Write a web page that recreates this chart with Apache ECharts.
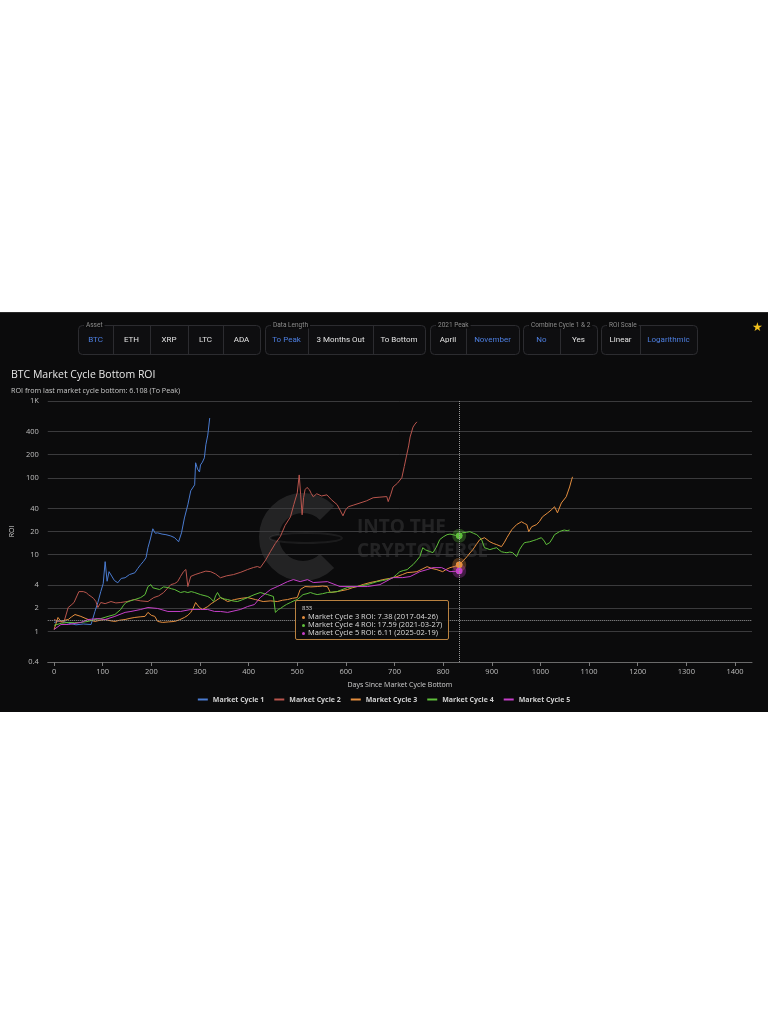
<!DOCTYPE html>
<html>
<head>
<meta charset="utf-8">
<title>BTC Market Cycle Bottom ROI</title>
<script src="https://cdn.jsdelivr.net/npm/echarts@6/dist/echarts.min.js"></script>
<style>
html, body { margin: 0; padding: 0; background: #fff; width: 768px; height: 1024px; }
#chart { position: absolute; left: 0; top: 312px; width: 768px; height: 400px; }
</style>
</head>
<body>
<div id="chart"></div>
<script>
// [day since bottom, ROI]
const cycle1 = [[0,1.31],[15,1.38],[30,1.28],[45,1.22],[60,1.25],[76,1.23],[84,1.82],[90,2.38],[96,3.3],[101,4.2],[105,8.1],[109,4.5],[113,6.0],[117,5.8],[124,4.6],[131,4.3],[138,4.9],[146,5.0],[155,5.5],[166,5.8],[172,6.6],[178,7.4],[184,8.2],[189,9.1],[193,12.3],[198,16],[203,21.7],[208,19],[213,19.2],[222,18.5],[230,18.2],[240,17.5],[248,16.6],[256,14.7],[262,19.2],[268,30],[275,44.6],[281,67.8],[285,70],[289,81],[291,157],[295,130],[299,119],[301,147],[305,160],[309,182],[312,269],[316,360],[320,600]];
const cycle2 = [[0,1.43],[10,1.35],[20,1.31],[29,2.05],[35,2.2],[41,2.38],[47,2.9],[51,3.3],[55,3.5],[60,3.3],[66,3.2],[71,3.0],[76,2.85],[81,2.7],[86,2.45],[90,2.05],[96,2.38],[105,2.3],[117,2.45],[127,2.35],[137,2.38],[150,2.45],[164,2.6],[178,2.5],[193,2.45],[205,2.76],[215,2.9],[225,3.2],[240,4.07],[248,4.2],[254,4.45],[260,5.2],[266,6.0],[271,6.4],[275,3.84],[281,5.2],[290,5.5],[301,5.8],[312,6.1],[322,6.0],[332,5.6],[342,5.0],[355,5.3],[369,5.5],[384,5.9],[398,6.4],[410,6.8],[418,7.0],[424,6.77],[435,8.5],[445,11],[455,14],[465,17.1],[475,24],[486,31],[493,45],[500,63.6],[504,109],[507,60],[510,33],[513,55],[516,70],[520,75],[525,70],[529,62],[533,56.6],[540,62],[550,58],[561,60],[570,52],[582,44.7],[588,38],[594,32],[599,38],[605,42],[615,44],[629,47],[642,50],[656,55],[670,56],[684,57],[687,49],[692,60],[697,76],[706,85],[715,100],[720,140],[725,198],[729,260],[732,340],[738,457],[742,500],[746,535]];
const cycle3 = [[0,1.06],[8,1.52],[14,1.35],[22,1.4],[29,1.43],[36,1.55],[43,1.66],[55,1.57],[70,1.43],[84,1.35],[95,1.4],[105,1.43],[115,1.38],[125,1.35],[135,1.4],[146,1.43],[156,1.48],[166,1.52],[177,1.55],[187,1.57],[193,1.77],[200,1.62],[207,1.57],[213,1.35],[223,1.31],[235,1.33],[248,1.35],[258,1.42],[268,1.52],[275,1.62],[281,1.77],[286,2.0],[291,2.38],[295,2.2],[299,2.05],[305,1.93],[316,2.11],[323,2.3],[330,2.45],[342,2.76],[350,2.6],[357,2.45],[371,2.6],[385,2.7],[398,2.76],[414,2.6],[430,2.45],[445,2.5],[459,2.45],[470,2.55],[480,2.6],[490,2.7],[500,2.76],[506,3.51],[516,3.84],[528,3.8],[541,3.84],[552,3.9],[562,3.84],[568,3.21],[582,3.3],[592,3.4],[603,3.51],[613,3.7],[623,3.84],[636,4.1],[650,4.33],[663,4.5],[676,4.73],[690,4.9],[705,5.18],[716,5.5],[726,5.83],[736,5.9],[746,6.0],[757,6.5],[767,6.97],[777,6.6],[787,6.38],[799,6.0],[806,6.4],[814,6.77],[823,7.0],[833,7.38],[841,8.3],[849,9.4],[855,10.5],[861,11.6],[868,13.5],[875,15.6],[885,16.6],[896,14.7],[903,14.0],[910,13.5],[920,12.7],[926,14.5],[931,16.6],[941,21.1],[951,24.6],[961,26.8],[967,25.5],[972,24.6],[976,19.9],[982,23.1],[992,24.6],[998,27],[1004,31],[1015,35],[1022,38],[1029,42],[1035,35],[1043,47],[1053,56.6],[1060,76],[1064,94],[1066,103],[1070,109]];
const cycle4 = [[0,1.2],[15,1.28],[29,1.31],[42,1.3],[55,1.31],[70,1.35],[84,1.43],[96,1.47],[111,1.57],[125,1.66],[137,1.93],[143,2.2],[148,2.38],[157,2.5],[166,2.6],[178,2.76],[187,3.02],[193,3.84],[199,4.07],[203,3.7],[207,3.73],[217,3.51],[225,3.8],[234,3.73],[241,3.6],[248,3.51],[260,3.21],[268,3.3],[275,3.21],[282,3.3],[289,3.21],[301,3.02],[316,2.85],[322,2.7],[328,2.45],[332,2.9],[336,3.21],[342,2.76],[350,2.65],[357,2.6],[367,2.5],[377,2.45],[388,2.6],[398,2.76],[411,3.0],[424,3.21],[439,3.02],[451,2.85],[455,1.77],[461,1.93],[466,2.0],[471,2.11],[478,2.25],[486,2.38],[493,2.5],[500,2.6],[506,2.8],[512,3.02],[520,3.1],[527,3.21],[534,3.1],[541,3.02],[552,3.1],[562,3.21],[572,3.25],[582,3.3],[592,3.5],[603,3.73],[613,3.8],[623,3.84],[634,3.95],[644,4.07],[654,4.25],[664,4.45],[675,4.6],[685,4.73],[697,5.02],[704,5.5],[711,6.0],[718,6.2],[726,6.38],[732,6.9],[738,7.4],[745,8.3],[752,9.4],[758,12.3],[764,11.5],[772,11.0],[779,10.6],[786,12.5],[793,15.7],[800,17],[808,18.2],[814,18.5],[820,18.2],[825,17.8],[830,17.1],[833,17.59],[840,19.3],[848,19.5],[855,19.9],[862,19.0],[869,18.2],[874,17],[879,15.7],[885,12.3],[890,12],[896,11.6],[903,12],[910,12.3],[915,11.5],[920,10.9],[926,10.7],[931,10.6],[937,10.8],[943,10.6],[947,10.0],[951,9.4],[957,11.6],[962,13],[967,14.3],[972,14.5],[978,14.7],[985,15.2],[992,15.7],[997,16.2],[1002,16.6],[1008,15],[1012,13.5],[1016,13.8],[1019,14.3],[1024,16],[1029,18.2],[1034,19],[1039,19.9],[1044,20.5],[1049,20.9],[1055,20.5],[1060,20.9]];
const cycle5 = [[0,1.06],[14,1.23],[29,1.23],[55,1.31],[70,1.43],[90,1.47],[105,1.43],[125,1.57],[146,1.77],[158,1.82],[178,1.93],[193,2.05],[213,1.99],[234,1.82],[260,1.82],[281,1.93],[301,1.93],[316,1.93],[330,1.82],[342,1.82],[357,1.77],[383,1.93],[398,2.11],[412,2.24],[424,2.76],[445,3.51],[459,3.84],[480,4.45],[492,4.73],[506,4.45],[521,4.73],[533,4.33],[562,4.45],[588,3.84],[615,3.84],[644,3.84],[670,4.07],[697,5.02],[717,5.02],[732,5.18],[752,6.0],[767,6.38],[779,6.77],[797,6.77],[814,6.0],[833,6.11]];

const cycleNames = ['Market Cycle 1', 'Market Cycle 2', 'Market Cycle 3', 'Market Cycle 4', 'Market Cycle 5'];
const cycleColors = ['#4a7bd0', '#b9554d', '#e58e3e', '#5fbf3b', '#c53fc8'];
const cycleBottoms = ['2010-07-17', '2011-11-18', '2015-01-14', '2018-12-15', '2022-11-09'];
const dayTicks = [0, 100, 200, 300, 400, 500, 600, 700, 800, 900, 1000, 1100, 1200, 1300, 1400];
const roiTicks = [0.4, 1, 2, 4, 10, 20, 40, 100, 200, 400, 1000];
const hoverDay = 833;
const hoverRoi = 1.39;

const controlGroups = [
    { title: 'Asset', left: 78, buttons: ['BTC', 'ETH', 'XRP', 'LTC', 'ADA'], widths: [35, 37, 38, 35, 37], active: 0 },
    { title: 'Data Length', left: 265, buttons: ['To Peak', '3 Months Out', 'To Bottom'], widths: [43, 65, 52], active: 0 },
    { title: '2021 Peak', left: 430, buttons: ['April', 'November'], widths: [36, 53], active: 1 },
    { title: 'Combine Cycle 1 & 2', left: 523, buttons: ['No', 'Yes'], widths: [37, 37], active: 0 },
    { title: 'ROI Scale', left: 601, buttons: ['Linear', 'Logarithmic'], widths: [39, 57], active: 1 }
];

const cycles = [cycle1, cycle2, cycle3, cycle4, cycle5];
const bg = '#0b0b0c';

function dateAfter (start, days) {
    const d = new Date(start + 'T00:00:00Z');
    d.setUTCDate(d.getUTCDate() + days);
    return d.toISOString().slice(0, 10);
}

// button bar above the chart
function buildControls () {
    const els = [];
    controlGroups.forEach(function (g) {
        const total = g.widths.reduce((a, b) => a + b, 0);
        els.push({ type: 'rect', shape: { x: g.left + 0.5, y: 13.5, width: total, height: 29, r: 4 },
            style: { fill: '#0e0e10', stroke: '#2c2c30', lineWidth: 1 } });
        let x = g.left;
        g.buttons.forEach(function (b, i) {
            if (i > 0) {
                els.push({ type: 'line', shape: { x1: x + 0.5, y1: 14, x2: x + 0.5, y2: 42 },
                    style: { stroke: '#2c2c30', lineWidth: 1 } });
            }
            els.push({ type: 'text', x: x + g.widths[i] / 2, y: 28,
                style: { text: b, fill: i === g.active ? '#4d7fe0' : '#e2e2e2', fontSize: 8,
                    fontFamily: 'Roboto', align: 'center', verticalAlign: 'middle' } });
            x += g.widths[i];
        });
        els.push({ type: 'text', x: g.left + 6, y: 13,
            style: { text: g.title, fill: '#8c8c8c', fontSize: 6.5, fontFamily: 'Roboto',
                align: 'left', verticalAlign: 'middle', backgroundColor: bg, padding: [0, 2] } });
    });
    els.push({ type: 'text', x: 757, y: 16,
        style: { text: '★', fill: '#f4c21c', fontSize: 12, align: 'center', verticalAlign: 'middle' } });
    els.push({ type: 'line', shape: { x1: 0, y1: 0.5, x2: 768, y2: 0.5 }, style: { stroke: '#2a2a2a', lineWidth: 1 } });
    return els;
}

// faint logo watermark behind the lines
function buildWatermark () {
    const c = 'rgba(255,255,255,0.1)';
    return [
        { type: 'arc', z: 0, silent: true, shape: { cx: 303, cy: 225, r: 34, startAngle: Math.PI / 4, endAngle: Math.PI * 7 / 4, clockwise: true },
            style: { stroke: c, lineWidth: 20, fill: null } },
        { type: 'ellipse', z: 0, silent: true, shape: { cx: 306, cy: 226, rx: 36, ry: 5 },
            style: { fill: bg, stroke: 'rgba(255,255,255,0.07)', lineWidth: 2 } },
        { type: 'text', z: 0, silent: true, x: 357, y: 216,
            style: { text: 'INTO THE', fill: c, fontSize: 19, fontWeight: 'bold', fontFamily: 'Open Sans', verticalAlign: 'middle' } },
        { type: 'text', z: 0, silent: true, x: 357, y: 240,
            style: { text: 'CRYPTOVERSE', fill: c, fontSize: 19, fontWeight: 'bold', fontFamily: 'Open Sans', verticalAlign: 'middle' } }
    ];
}

const chart = echarts.init(document.getElementById('chart'));

chart.setOption({
    backgroundColor: bg,
    animation: false,
    textStyle: { fontFamily: 'Open Sans' },
    title: [
        { text: 'BTC Market Cycle Bottom ROI', left: 6, top: 53,
            textStyle: { color: '#e6e6e6', fontSize: 10.5, fontWeight: 'normal' } },
        { text: 'ROI from last market cycle bottom: 6.108 (To Peak)', left: 6, top: 70,
            textStyle: { color: '#c8c8c8', fontSize: 7.2, fontWeight: 'normal' } }
    ],
    graphic: { elements: buildControls().concat(buildWatermark()) },
    legend: {
        data: cycleNames,
        top: 379,
        left: 'center',
        icon: 'rect',
        itemWidth: 10,
        itemHeight: 2,
        itemGap: 10,
        textStyle: { color: '#cfcfcf', fontSize: 7, fontWeight: 'bold' }
    },
    grid: { left: 47, right: 16, top: 89, bottom: 50 },
    tooltip: {
        trigger: 'axis',
        triggerOn: 'none',
        alwaysShowContent: true,
        transitionDuration: 0,
        backgroundColor: 'rgba(12,12,12,0.92)',
        borderColor: '#b98240',
        borderWidth: 1,
        padding: [3, 6],
        textStyle: { color: '#dedede', fontSize: 7.5, fontFamily: 'Open Sans' },
        extraCssText: 'border-radius:2px;box-shadow:none;',
        axisPointer: {
            type: 'cross',
            triggerEmphasis: false,
            label: { show: false },
            lineStyle: { color: '#9a9a9a', type: 'dotted', width: 1 },
            crossStyle: { color: '#9a9a9a', type: 'dotted', width: 1 }
        },
        position: function (point, params, dom, rect, size) {
            return [point[0] - size.contentSize[0] - 10, point[1] - 20];
        },
        formatter: function (params) {
            const shown = params.filter(p => p.data[0] === hoverDay);
            let html = '<div style="font-size:6px;line-height:8px">' + hoverDay + '</div>';
            shown.forEach(function (p) {
                html += '<div style="line-height:8px;white-space:nowrap">' +
                    '<span style="display:inline-block;width:3px;height:3px;border-radius:50%;margin-right:3px;vertical-align:middle;background:' + p.color + '"></span>' +
                    p.seriesName + ' ROI: ' + p.data[1].toFixed(2) + ' (' + dateAfter(cycleBottoms[p.seriesIndex], hoverDay) + ')</div>';
            });
            return html;
        }
    },
    xAxis: {
        type: 'value',
        min: -13,
        max: 1435,
        name: 'Days Since Market Cycle Bottom',
        nameLocation: 'middle',
        nameGap: 19,
        nameTextStyle: { color: '#cfcfcf', fontSize: 7 },
        axisLine: { onZero: false, lineStyle: { color: '#6a6a6a' } },
        axisTick: { customValues: dayTicks, length: 4, lineStyle: { color: '#7a7a7a' } },
        axisLabel: { customValues: dayTicks, color: '#bdbdbd', fontSize: 7.5, margin: 6, formatter: v => String(v) },
        splitLine: { show: false }
    },
    yAxis: {
        type: 'log',
        logBase: 10,
        min: 0.4,
        max: 1000,
        name: 'ROI',
        nameLocation: 'middle',
        nameGap: 26,
        nameTextStyle: { color: '#cfcfcf', fontSize: 7 },
        axisLine: { show: false },
        axisTick: { show: false, customValues: roiTicks },
        axisLabel: {
            customValues: roiTicks,
            color: '#bdbdbd',
            fontSize: 7.5,
            margin: 9,
            formatter: v => (v >= 1000 ? (v / 1000) + 'K' : String(v))
        },
        splitLine: { lineStyle: { color: '#3b3b3d', width: 1 } }
    },
    series: cycles.map(function (data, i) {
        const s = {
            name: cycleNames[i],
            type: 'line',
            data: data,
            showSymbol: false,
            symbol: 'circle',
            z: 3 + i,
            lineStyle: { width: 1, color: cycleColors[i] },
            itemStyle: { color: cycleColors[i] },
            emphasis: { disabled: true }
        };
        const hit = data.find(p => p[0] === hoverDay);
        if (hit) {
            s.markPoint = {
                silent: true,
                label: { show: false },
                data: [
                    { coord: hit, symbol: 'circle', symbolSize: 14, itemStyle: { color: cycleColors[i], opacity: 0.3 } },
                    { coord: hit, symbol: 'circle', symbolSize: 5, itemStyle: { color: cycleColors[i], borderColor: '#fff', borderWidth: 1 } }
                ]
            };
        }
        return s;
    })
});

const pt = chart.convertToPixel({ gridIndex: 0 }, [hoverDay, hoverRoi]);
chart.dispatchAction({ type: 'showTip', x: pt[0], y: pt[1] });
</script>
</body>
</html>
